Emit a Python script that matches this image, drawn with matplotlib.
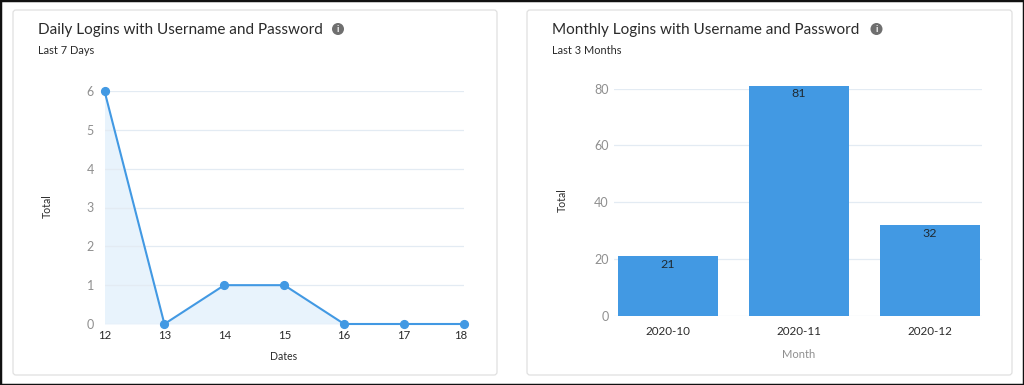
import matplotlib
matplotlib.use('Agg')
import matplotlib.pyplot as plt
from matplotlib.patches import FancyBboxPatch, Rectangle, Circle
from matplotlib.transforms import ScaledTranslation

plt.rcParams['font.family'] = 'Lato'

W, H = 1024, 385

dates = [12, 13, 14, 15, 16, 17, 18]
daily_totals = [6, 0, 1, 1, 0, 0, 0]
daily_yticks = [0, 1, 2, 3, 4, 5, 6]

months = ['2020-10', '2020-11', '2020-12']
monthly_totals = [21, 81, 32]
monthly_yticks = [0, 20, 40, 60, 80]

BLUE = '#4299e3'
AREA = '#e8f3fc'
GRID = '#e3ebf3'
GREY = '#8f8f8f'
DARK = '#2b2b2b'


def px_axes(fig, left, top, right, bottom):
    """axes placed by pixel edges, measured from the top left"""
    return fig.add_axes([left / W, 1 - bottom / H, (right - left) / W, (bottom - top) / H])


def fig_text(fig, x, y, s, **kw):
    fig.text(x / W, 1 - y / H, s, **kw)


def draw_card(bg, left, right, title, subtitle, icon_x):
    bg.add_patch(FancyBboxPatch((left, 10), right - left, 365,
                                boxstyle='round,pad=0,rounding_size=3',
                                fc='white', ec='#e0e0e0', lw=0.9))
    bg.text(left + 25.5, 30, title, fontsize=10.95, color=DARK, va='center', ha='left')
    bg.text(left + 25.5, 51, subtitle, fontsize=7.9, color=DARK, va='center', ha='left')
    bg.add_patch(Circle((icon_x, 29), 6, fc='#6f6f6f', ec='none'))
    bg.text(icon_x, 29, 'i', fontsize=6.5, color='white', fontweight='bold', va='center', ha='center')


fig = plt.figure(figsize=(W / 100, H / 100), dpi=100, facecolor='white')

# background layer in pixel coordinates, for the cards and the black frame
bg = fig.add_axes([0, 0, 1, 1])
bg.set_xlim(0, W)
bg.set_ylim(H, 0)
bg.axis('off')
bg.add_patch(Rectangle((0, 0), W, H, fc='none', ec='#111111', lw=2.5))
draw_card(bg, 13, 497, 'Daily Logins with Username and Password', 'Last 7 Days', 338)
draw_card(bg, 527, 1012, 'Monthly Logins with Username and Password', 'Last 3 Months', 876.5)

# left chart, line with area
ax1 = px_axes(fig, 104.5, 91, 464, 324)
ax1.patch.set_alpha(0)
ax1.set_xlim(dates[0], dates[-1])
ax1.set_ylim(0, 6)
ax1.fill_between(dates, daily_totals, 0, color=AREA, lw=0, zorder=1)
ax1.plot(dates, daily_totals, color=BLUE, lw=1.5, marker='o', ms=5.6, clip_on=False, zorder=5)
ax1.set_yticks(daily_yticks)
ax1.set_xticks(dates)
ax1.grid(axis='y', color=GRID, lw=0.9, zorder=2)
for s in ax1.spines.values():
    s.set_visible(False)
ax1.tick_params(axis='y', length=0, pad=7.5, labelsize=9, labelcolor=GREY)
ax1.tick_params(axis='x', length=0, pad=4, labelsize=8.2, labelcolor=DARK)
# the last date label is pulled in so it stays inside the plot width
last = ax1.get_xticklabels()[-1]
last.set_transform(last.get_transform() + ScaledTranslation(-3 / 100, 0, fig.dpi_scale_trans))
fig_text(fig, 47, 206, 'Total', fontsize=7.6, color=DARK, rotation=90, va='center', ha='center')
fig_text(fig, 284, 356, 'Dates', fontsize=7.6, color=DARK, va='center', ha='center')

# right chart, bars with the value inside the top
ax2 = px_axes(fig, 614, 88.5, 982, 316)
ax2.patch.set_alpha(0)
ax2.set_xlim(-0.412, 2.397)
ax2.set_ylim(0, 80)
bars = ax2.bar(range(len(months)), monthly_totals, width=0.77, color=BLUE, zorder=3, clip_on=False)
for rect, val in zip(bars, monthly_totals):
    ax2.annotate(str(val), (rect.get_x() + rect.get_width() / 2, val), xytext=(0, -6),
                 textcoords='offset points', ha='center', va='center', annotation_clip=False,
                 fontsize=8.9, color='#1f2a33', zorder=4)
ax2.set_yticks(monthly_yticks)
ax2.set_xticks(range(len(months)))
ax2.set_xticklabels(months)
ax2.grid(axis='y', color=GRID, lw=0.9)
ax2.set_axisbelow(True)
for s in ax2.spines.values():
    s.set_visible(False)
ax2.tick_params(axis='y', length=0, pad=4, labelsize=9, labelcolor=GREY)
ax2.tick_params(axis='x', length=0, pad=7, labelsize=8.4, labelcolor=DARK)
fig_text(fig, 562.5, 200, 'Total', fontsize=7.6, color=DARK, rotation=90, va='center', ha='center')
fig_text(fig, 798.5, 355, 'Month', fontsize=8, color=GREY, va='center', ha='center')

fig.savefig('out.png', dpi=100)
